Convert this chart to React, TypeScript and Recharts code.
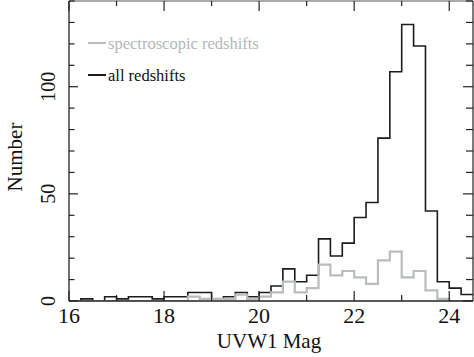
import React from 'react';
import { ComposedChart, Line, XAxis, YAxis } from 'recharts';

// Histogram bins (UVW1 magnitude, bin width 0.25)
const binStarts = [
  16.0, 16.25, 16.5, 16.75, 17.0, 17.25, 17.5, 17.75, 18.0, 18.25,
  18.5, 18.75, 19.0, 19.25, 19.5, 19.75, 20.0, 20.25, 20.5, 20.75,
  21.0, 21.25, 21.5, 21.75, 22.0, 22.25, 22.5, 22.75, 23.0, 23.25,
  23.5, 23.75, 24.0, 24.25,
];
const binEnd = 24.5;

const allRedshifts = [
  0, 1, 0, 2, 1, 2, 2, 1, 2, 2,
  4, 4, 1, 2, 4, 2, 4, 7, 15, 9,
  12, 29, 21, 27, 39, 46, 76, 107, 129, 119,
  42, 9, 6, 3,
];
const specRedshifts = [
  0, 0, 0, 0, 0, 0, 0, 0, 0, 0,
  2, 1, 1, 1, 3, 1, 2, 4, 9, 4,
  6, 17, 12, 14, 11, 8, 19, 23, 11, 14,
  5, 1, 0, 0,
];

const xTicks = [16, 17, 18, 19, 20, 21, 22, 23, 24];
const xLabelTicks = [16, 18, 20, 22, 24];
const yTicks = [0, 10, 20, 30, 40, 50, 60, 70, 80, 90, 100, 110, 120, 130, 140];
const yLabelTicks = [0, 50, 100];

const seriesNames = { all: 'all redshifts', spec: 'spectroscopic redshifts' };

const data = [
  ...binStarts.map((x, i) => ({ x, all: allRedshifts[i], spec: specRedshifts[i] })),
  {
    x: binEnd,
    all: allRedshifts[allRedshifts.length - 1],
    spec: specRedshifts[specRedshifts.length - 1],
  },
];

// layout
const W = 474;
const H = 357;
const M = { top: 0, right: 0, bottom: 55, left: 68 };
const PLOT_TOP = 1;
const PLOT_BOTTOM = 301;
const PLOT_LEFT = 69;
const PLOT_RIGHT = 473;

const FONT = '"Liberation Serif", "Times New Roman", serif';
const AXIS_COLOR = '#222';
const BLACK = '#1c1c1c';
const GREY = '#b9bdbd';

const BottomTick = (props: any) => {
  const { x, payload } = props;
  const v = payload.value;
  const major = xLabelTicks.includes(v);
  return (
    <g>
      <line x1={x} x2={x} y1={PLOT_BOTTOM} y2={PLOT_BOTTOM - (major ? 10 : 6)} stroke={AXIS_COLOR} strokeWidth={1.2} />
      {major && (
        <text x={x} y={PLOT_BOTTOM + 22} textAnchor="middle" fontFamily={FONT} fontSize={22} fill="#111">
          {v}
        </text>
      )}
    </g>
  );
};

const TopTick = (props: any) => {
  const { x, payload } = props;
  const major = xLabelTicks.includes(payload.value);
  return (
    <line x1={x} x2={x} y1={PLOT_TOP} y2={PLOT_TOP + (major ? 10 : 5)} stroke={AXIS_COLOR} strokeWidth={1.2} />
  );
};

const LeftTick = (props: any) => {
  const { y, payload } = props;
  const v = payload.value;
  const major = yLabelTicks.includes(v);
  return (
    <g>
      <line x1={PLOT_LEFT} x2={PLOT_LEFT + (major ? 9 : 5.5)} y1={y} y2={y} stroke={AXIS_COLOR} strokeWidth={1.2} />
      {major && (
        <text
          transform={`translate(${PLOT_LEFT - 14},${y}) rotate(-90)`}
          textAnchor="middle"
          fontFamily={FONT}
          fontSize={20}
          fill="#111"
        >
          {v}
        </text>
      )}
    </g>
  );
};

const RightTick = (props: any) => {
  const { y, payload } = props;
  const major = yLabelTicks.includes(payload.value);
  return (
    <line x1={PLOT_RIGHT} x2={PLOT_RIGHT - (major ? 10 : 7)} y1={y} y2={y} stroke={AXIS_COLOR} strokeWidth={1.2} />
  );
};

const legendRows = [
  { name: seriesNames.spec, color: GREY, text: '#b3b7b7' },
  { name: seriesNames.all, color: BLACK, text: '#111' },
];

export default function App() {
  return (
    <div style={{ position: 'absolute', left: 0, top: 0, width: W, height: H, background: '#fff' }}>
      <ComposedChart width={W} height={H} data={data} margin={M}>
        <XAxis
          dataKey="x"
          type="number"
          domain={[16, 24.5]}
          ticks={xTicks}
          interval={0}
          height={1}
          tickLine={false}
          tickSize={0}
          axisLine={{ stroke: AXIS_COLOR, strokeWidth: 1.3 }}
          tick={<BottomTick />}
          allowDataOverflow
        />
        <XAxis
          xAxisId="top"
          orientation="top"
          dataKey="x"
          type="number"
          domain={[16, 24.5]}
          ticks={xTicks}
          interval={0}
          height={1}
          tickLine={false}
          tickSize={0}
          axisLine={{ stroke: '#555', strokeWidth: 1.2 }}
          tick={<TopTick />}
          allowDataOverflow
        />
        <YAxis
          type="number"
          domain={[0, 140]}
          ticks={yTicks}
          interval={0}
          width={1}
          tickLine={false}
          tickSize={0}
          axisLine={{ stroke: AXIS_COLOR, strokeWidth: 1.3 }}
          tick={<LeftTick />}
          allowDataOverflow
        />
        <YAxis
          yAxisId="right"
          orientation="right"
          type="number"
          domain={[0, 140]}
          ticks={yTicks}
          interval={0}
          width={1}
          tickLine={false}
          tickSize={0}
          axisLine={{ stroke: AXIS_COLOR, strokeWidth: 1.2 }}
          tick={<RightTick />}
          allowDataOverflow
        />
        <Line
          type="stepAfter"
          dataKey="all"
          name={seriesNames.all}
          stroke={BLACK}
          strokeWidth={1.6}
          dot={false}
          isAnimationActive={false}
        />
        <Line
          type="stepAfter"
          dataKey="spec"
          name={seriesNames.spec}
          stroke={GREY}
          strokeWidth={2.2}
          dot={false}
          isAnimationActive={false}
        />
      </ComposedChart>
      <svg
        width={W}
        height={H}
        style={{ position: 'absolute', left: 0, top: 0, pointerEvents: 'none' }}
      >
        {legendRows.map((r, i) => (
          <g key={r.name}>
            <line x1={88} x2={106} y1={43 + i * 32} y2={43 + i * 32} stroke={r.color} strokeWidth={2} />
            <text x={108} y={49 + i * 32} fontFamily={FONT} fontSize={16.5} fill={r.text}>
              {r.name}
            </text>
          </g>
        ))}
        <text x={269} y={348} textAnchor="middle" fontFamily={FONT} fontSize={21} fill="#111">
          UVW1 Mag
        </text>
        <text
          transform={`translate(21.5,157) rotate(-90)`}
          textAnchor="middle"
          fontFamily={FONT}
          fontSize={21}
          fill="#111"
        >
          Number
        </text>
      </svg>
    </div>
  );
}
